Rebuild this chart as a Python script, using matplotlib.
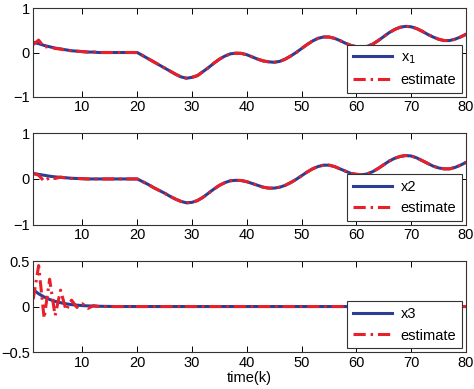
import matplotlib
matplotlib.use("Agg")
import matplotlib.pyplot as plt

plt.rcParams['font.family'] = ['Liberation Sans', 'DejaVu Sans']

k = list(range(1, 81))

# true states at k = 1..80
x1 = [0.23, 0.20, 0.16, 0.13, 0.10, 0.08, 0.06, 0.04, 0.03, 0.02,
      0.01, 0.01, 0.00, 0.00, 0.00, 0.00, 0.00, 0.00, 0.00, 0.00,
      -0.07, -0.14, -0.21, -0.28, -0.35, -0.42, -0.49, -0.55, -0.58, -0.56,
      -0.52, -0.43, -0.34, -0.24, -0.15, -0.08, -0.03, -0.015, -0.02, -0.05,
      -0.10, -0.15, -0.19, -0.21, -0.22, -0.20, -0.15, -0.08, 0.00, 0.09,
      0.18, 0.26, 0.32, 0.35, 0.35, 0.32, 0.27, 0.21, 0.16, 0.13,
      0.12, 0.14, 0.19, 0.27, 0.36, 0.45, 0.52, 0.57, 0.59, 0.58,
      0.54, 0.48, 0.41, 0.35, 0.30, 0.27, 0.27, 0.30, 0.35, 0.41]

x2 = [0.12, 0.10, 0.08, 0.06, 0.045, 0.035, 0.025, 0.015, 0.01, 0.005,
      0.00, 0.00, 0.00, 0.00, 0.00, 0.00, 0.00, 0.00, 0.00, 0.00,
      -0.06, -0.12, -0.19, -0.25, -0.31, -0.38, -0.44, -0.49, -0.52, -0.51,
      -0.47, -0.40, -0.31, -0.22, -0.14, -0.08, -0.04, -0.03, -0.035, -0.06,
      -0.10, -0.14, -0.18, -0.20, -0.20, -0.18, -0.14, -0.08, -0.01, 0.07,
      0.15, 0.22, 0.27, 0.30, 0.30, 0.27, 0.22, 0.17, 0.12, 0.10,
      0.09, 0.11, 0.16, 0.23, 0.31, 0.39, 0.45, 0.49, 0.51, 0.50,
      0.46, 0.40, 0.34, 0.28, 0.24, 0.22, 0.22, 0.25, 0.30, 0.36]

x3 = [0.185, 0.14, 0.105, 0.078, 0.057, 0.042, 0.03, 0.021, 0.015, 0.01,
      0.007, 0.005, 0.003, 0.002, 0.001] + [0.0] * 65

# estimates differ from the states only during the first steps
est_x1_start = [0.18, 0.28, 0.12, 0.14, 0.09, 0.08, 0.05, 0.04, 0.03, 0.02]
est_x2_start = [0.12, 0.08, -0.05, 0.03, 0.01, 0.04, 0.02, 0.01, 0.01, 0.005]
est_x3_start = [0.08, 0.45, -0.13, 0.30, -0.10, 0.18, -0.04, 0.07, -0.01, 0.03,
                -0.02, 0.01, 0.0, 0.0, 0.0]

est_x1 = est_x1_start + x1[len(est_x1_start):]
est_x2 = est_x2_start + x2[len(est_x2_start):]
est_x3 = est_x3_start + x3[len(est_x3_start):]

labels = ['x$_1$', 'x2', 'x3']
ylims = [(-1, 1), (-1, 1), (-0.5, 0.5)]
yticks = [[-1, 0, 1], [-1, 0, 1], [-0.5, 0, 0.5]]
yticklabels = [['\u22121', '0', '1'], ['\u22121', '0', '1'], ['\u22120.5', '0', '0.5']]
xticks = [10, 20, 30, 40, 50, 60, 70, 80]

BLUE = '#2c3e94'
RED = '#e8202a'

fig = plt.figure(figsize=(4.74, 3.89), dpi=100)
boxes = [(0.070, 0.751, 0.913, 0.228),
         (0.070, 0.422, 0.913, 0.236),
         (0.070, 0.095, 0.913, 0.234)]

series = [(x1, est_x1), (x2, est_x2), (x3, est_x3)]

for i, (true, est) in enumerate(series):
    ax = fig.add_axes(boxes[i])
    ax.plot(k, true, color=BLUE, lw=2.2, label=labels[i])
    ax.plot(k, est, color=RED, lw=2.2, linestyle=(0, (4, 1.6, 0.8, 1.6)), label='estimate')
    ax.set_xlim(1, 80)
    ax.set_ylim(*ylims[i])
    ax.set_xticks(xticks)
    ax.set_yticks(yticks[i])
    ax.set_yticklabels(yticklabels[i])
    ax.tick_params(direction='in', top=True, right=True, labelsize=10.5, length=4, width=0.7, pad=2.5)
    for s in ax.spines.values():
        s.set_linewidth(0.8)
        s.set_color('#333333')
    leg = ax.legend(loc='lower right', fontsize=10.5, fancybox=False, framealpha=1,
                    edgecolor='#333333', handlelength=2.7, borderaxespad=0.25,
                    borderpad=0.4, labelspacing=0.5, handletextpad=0.6)
    leg.get_frame().set_linewidth(0.8)
    if i == 2:
        ax.set_xlabel('time(k)', fontsize=10.5, labelpad=1)

fig.savefig('out.png', dpi=100)
